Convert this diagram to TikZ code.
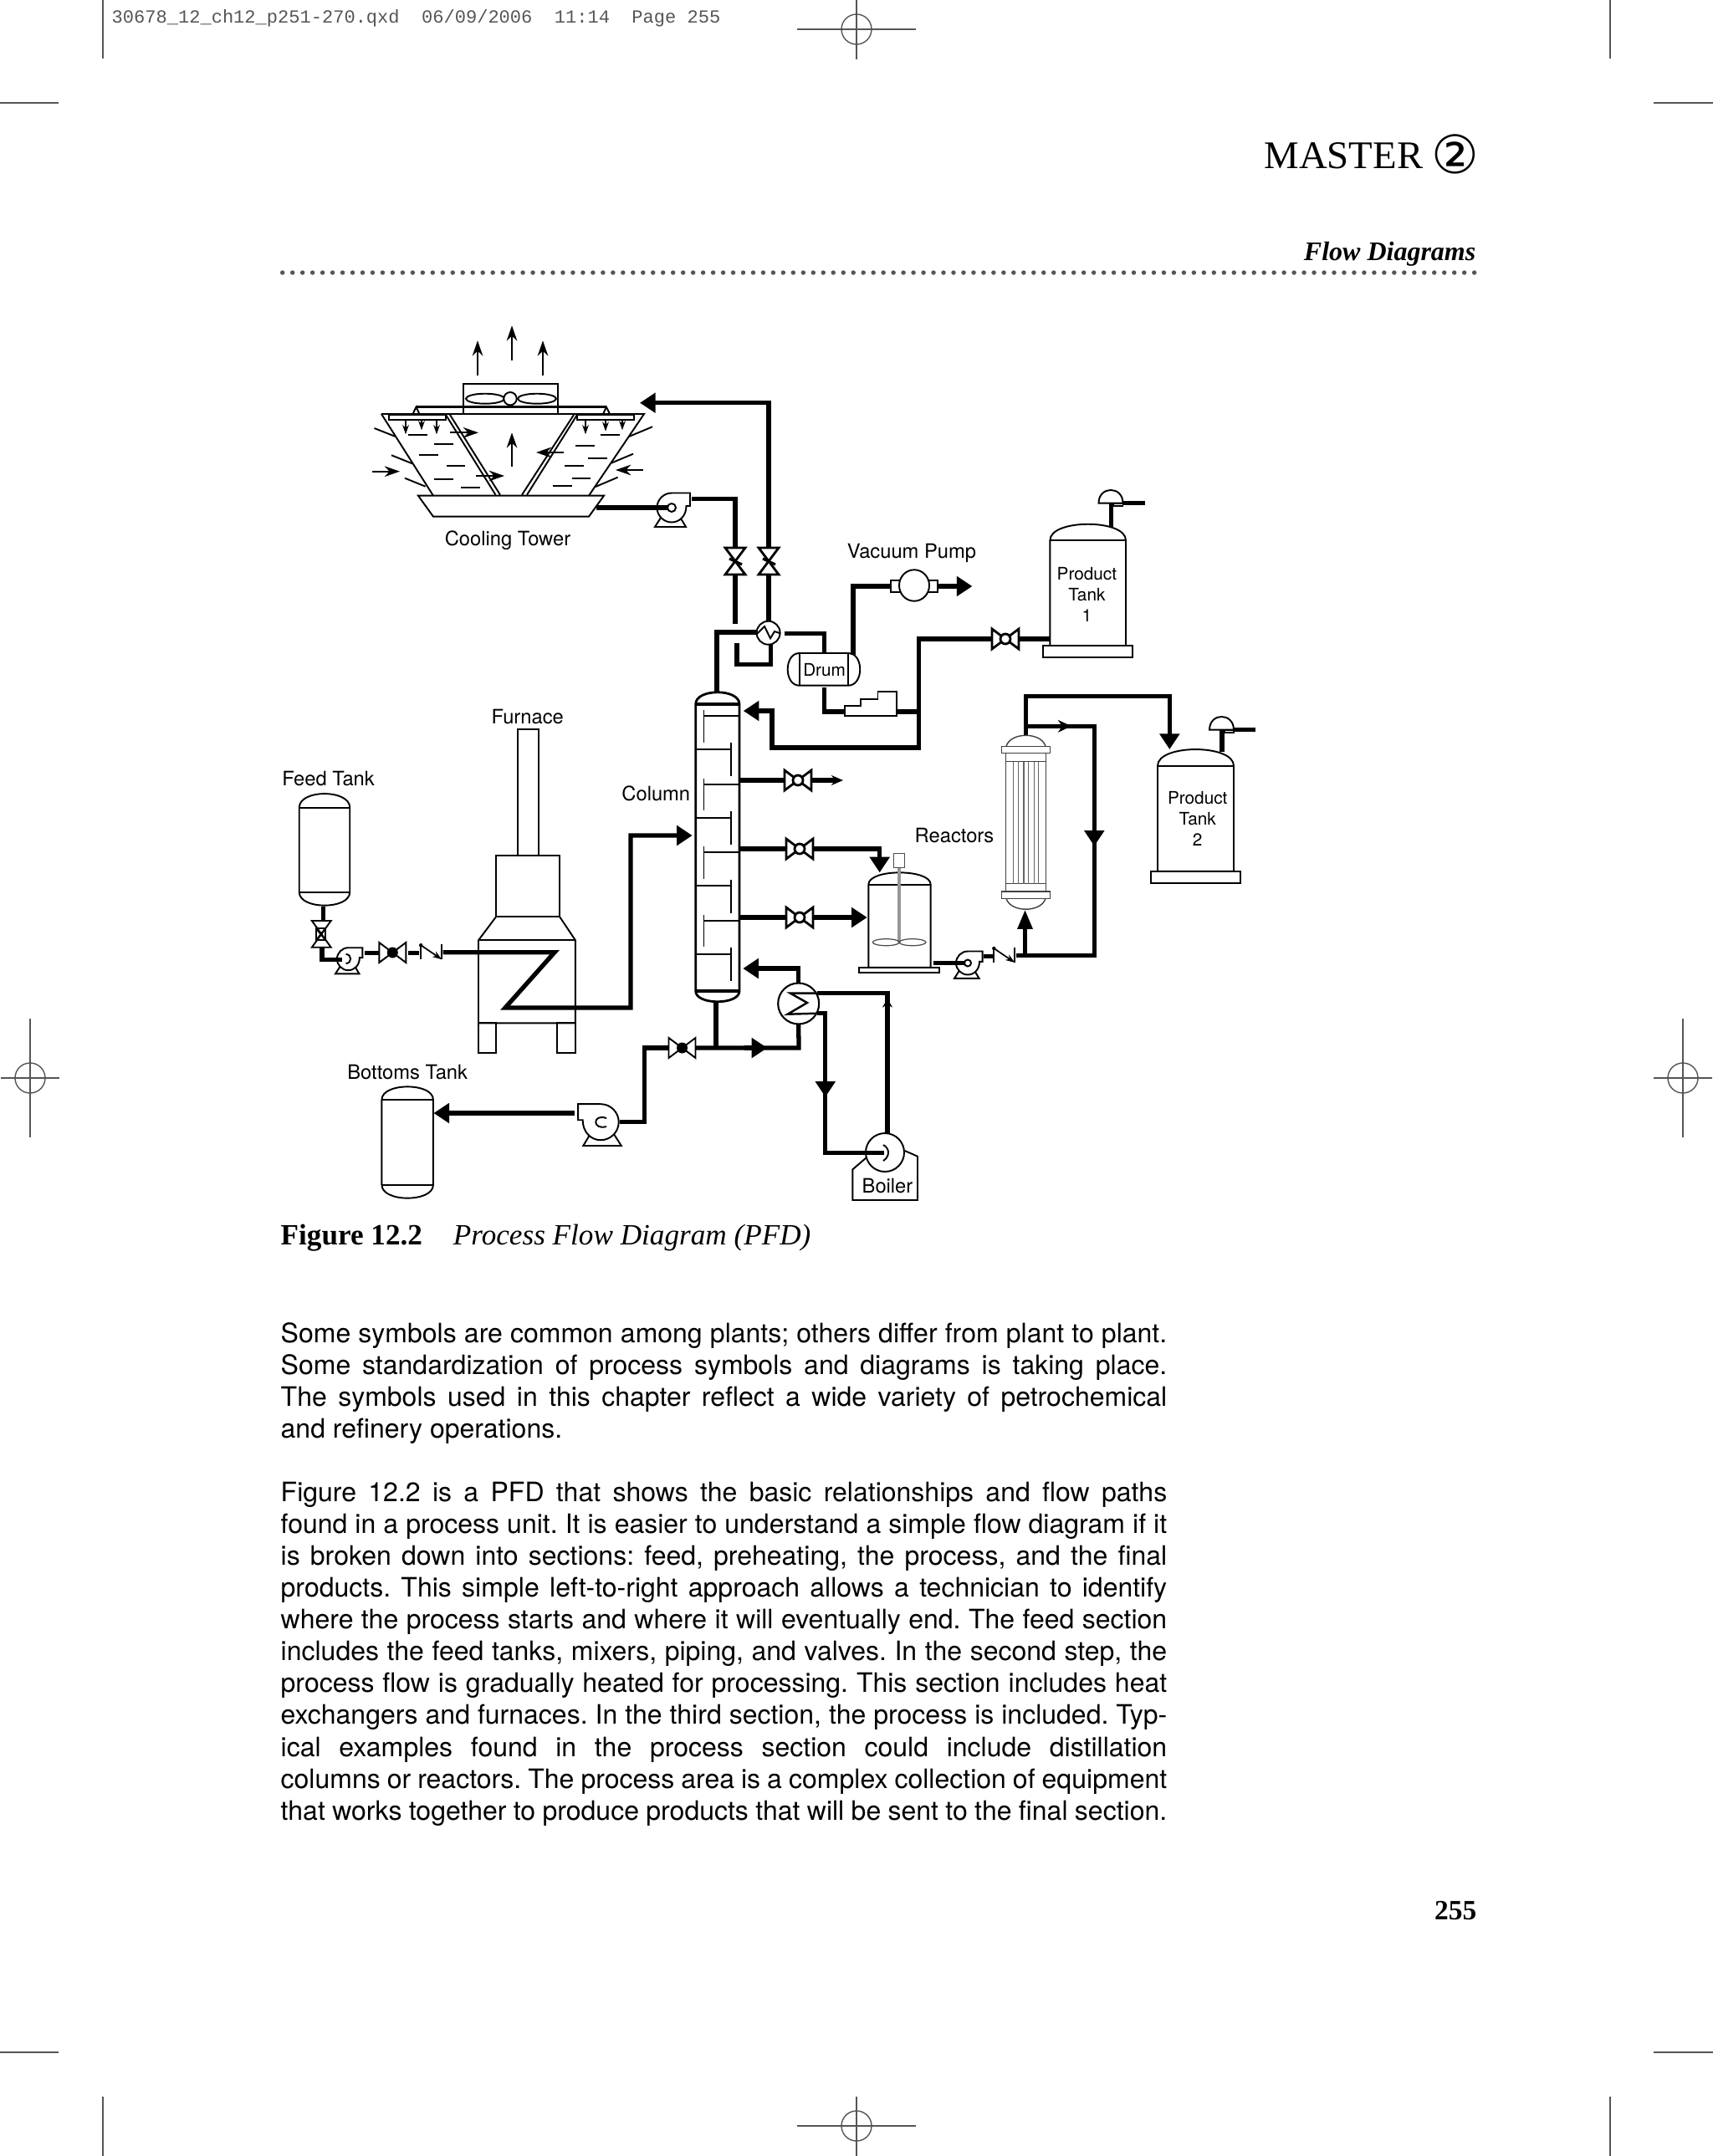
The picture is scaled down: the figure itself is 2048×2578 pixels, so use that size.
\documentclass[tikz,border=0pt]{standalone}
\usepackage{fontspec}
\setmainfont{Liberation Serif}
\setsansfont{TeX Gyre Heros}
\setmonofont{Liberation Mono}
\newfontfamily\symfont{DejaVu Sans}
\usetikzlibrary{arrows.meta}
\usetikzlibrary{calc}
\definecolor{cropgray}{RGB}{85,85,85}
\definecolor{shaftgray}{RGB}{150,150,150}

\tikzset{
  thinline/.style={line width=0.55pt},
  shell/.style={line width=0.8pt},
  pipe/.style={line width=1.5pt},
  flow/.style={pipe,-{Triangle[length=5.3pt,width=6.6pt]}},
  smallflow/.style={line width=0.5pt,-{Stealth[length=3.2pt,width=2.2pt]}},
  crop/.style={line width=0.4pt,color=cropgray},
  lbl/.style={font=\sffamily\fontsize{6.75}{8}\selectfont,inner sep=0pt},
  smalllbl/.style={font=\sffamily\fontsize{5.9}{7}\selectfont,inner sep=0pt,align=center},
  body/.style={font=\sffamily\fontsize{9.1}{10.84}\selectfont\frenchspacing,inner sep=0pt,anchor=north west,text width=301.3pt,align=justify},
  pump/.pic={
    \draw[thinline] (0,-17.5) .. controls (-9.6,-17.5) and (-17.5,-9.6) .. (-17.5,0)
      .. controls (-17.5,9.6) and (-9.6,17.5) .. (0,17.5)
      .. controls (9.6,17.5) and (17.5,9.6) .. (17.5,-2) -- (22,-2) -- (22,-17.5) -- cycle;
    \draw[thinline] (-13,12) -- (-20,23) -- (17,23) -- (11,13);
  },
  openvalve/.pic={
    \draw[shell,fill=white] (-16,-12) -- (16,12) -- (16,-12) -- (-16,12) -- cycle;
    \draw[shell,fill=white] (0,0) circle[radius=6];
  },
  dotvalve/.pic={
    \draw[thinline,fill=white] (-16,-12) -- (16,12) -- (16,-12) -- (-16,12) -- cycle;
    \fill (0,0) circle[radius=6.5];
  },
  gatevalve/.pic={
    \draw[shell,fill=white] (-12,-16) -- (12,16) -- (-12,16) -- (12,-16) -- cycle;
    \draw[line width=0.9pt] (-7,-3) -- (8,4);
  },
  checkvalve/.pic={
    \draw[thinline] (0,-10) -- (0,8.5);
    \fill (0,-8.5) circle[radius=2.2];
    \draw[smallflow] (0,-8.5) -- (25,8.5);
    \draw[thinline] (25,-10) -- (25,8.5);
  },
  vent/.pic={
    \draw[thinline] (-15,0) .. controls (-15,-21) and (14,-21) .. (14,0) -- cycle;
    \draw[thinline] (3,0) rectangle (14,3);
    \draw[pipe] (14,0) -- (40,0);
  },
  pics/vessel/.style n args={4}{code={
    \draw[thinline] (-#1/2,0) -- (-#1/2,#2) .. controls (-#1/2,#2+#4*1.33) and (#1/2,#2+#4*1.33) .. (#1/2,#2)
      -- (#1/2,0) .. controls (#1/2,-#3*1.33) and (-#1/2,-#3*1.33) .. cycle;
    \draw[thinline] (-#1/2,0) -- (#1/2,0) (-#1/2,#2) -- (#1/2,#2);
  }},
}

\begin{document}
\begin{tikzpicture}[x=0.01cm,y=-0.01cm]
\useasboundingbox (0,0) rectangle (2048,2578);

 % printer marks
 \draw[crop] (123,0) -- (123,70);
 \draw[crop] (0,123) -- (70,123);
 \draw[crop] (1925,0) -- (1925,70);
 \draw[crop] (1977,123) -- (2048,123);
 \draw[crop] (123,2507) -- (123,2578);
 \draw[crop] (0,2454) -- (70,2454);
 \draw[crop] (1925,2507) -- (1925,2578);
 \draw[crop] (1977,2454) -- (2048,2454);
 \foreach \cx/\cy in {36/1289,2012/1289}{
  \draw[crop] (\cx,\cy) circle[radius=18];
  \draw[crop] (\cx-35,\cy) -- (\cx+35,\cy) (\cx,\cy-71) -- (\cx,\cy+71);
 }
 \foreach \cx/\cy in {1024/35,1024/2542}{
  \draw[crop] (\cx,\cy) circle[radius=18];
  \draw[crop] (\cx-71,\cy) -- (\cx+71,\cy) (\cx,\cy-35) -- (\cx,\cy+36);
 }
 \node[anchor=base west,inner sep=0pt,color=cropgray,font=\ttfamily\fontsize{6.27}{8}\selectfont] (slug) at (133,27)
  {30678\_12\_ch12\_p251-270.qxd~~06/09/2006~~11:14~~Page~255};

 % running head
 \node[anchor=base east,inner sep=0pt,font=\rmfamily\fontsize{13.3}{15}\selectfont] (master) at (1702,201) {MASTER};
 \node[inner sep=0pt,font=\symfont\fontsize{18}{19}\selectfont] (mastertwo) at (1740,184) {②};
 \node[anchor=base east,inner sep=0pt,font=\rmfamily\bfseries\itshape\fontsize{9.1}{11}\selectfont] (head) at (1765,311) {Flow Diagrams};
 \draw[line width=1.55pt,line cap=round,dash pattern=on 0pt off 3.405pt,color=cropgray] (337.7,326) -- (1764,326);

 % cooling tower
 \coordinate (CT) at (611,495);
 \draw[thinline] (456,495) -- (770,495) -- (704,592.7) (518,592.7) -- (456,495);
 \draw[thinline] (500,592.7) -- (722,592.7) -- (704,617.7) -- (518,617.7) -- cycle;
 \draw[thinline] (465,496) rectangle (533,501.7);
 \draw[thinline] (690,496) rectangle (758,501.7);
 \draw[thinline] (533,496) -- (592.5,591.7) (538,496) -- (598,591.7);
 \draw[thinline] (686,496) -- (624,591.7) (690,496) -- (630,591.7);
 \draw[thinline] (554,459) rectangle (667,495);
 \draw[thinline] (580,476.7) ellipse[x radius=23,y radius=6];
 \draw[thinline] (642,476.7) ellipse[x radius=23,y radius=6];
 \draw[thinline,fill=white] (610,476.7) circle[radius=7.7];
 \draw[line width=1pt] (497.5,486.7) -- (725,486.7);
 \foreach \tx in {497.5,725}
  \draw[thinline] (\tx-4,495) -- (\tx,486.7) -- (\tx+4,495);
 \foreach \ax/\ay/\bx/\by in {571/449/571/407.3,612/431/612/389.3,649/449/649/407.3,
   538/517.3/572/517.3,612/558.3/612/517.3,674/541/641/541,569/569/603/569,445/563.7/478/563.7,769/562/736/562}
  \draw[thinline,-{Stealth[length=5.2pt,width=3.6pt]}] (\ax,\ay) -- (\bx,\by);
 \foreach \ax/\by in {485/519.3,504/514.3,522/519.3,700/519.3,724/515.7,744/514.3}
  \draw[smallflow] (\ax,502) -- (\ax,\by);
 \foreach \ax/\bx/\ay in {488/511/519.7,519/542/531,501/524/544,534/556/557,519/542/573.3,551/574/583.3,
   717.5/741/519.7,688/711/532.7,703/726/547.7,675/698/557,684/706/571.7,661/684/581.3}
  \draw[thinline] (\ax,\ay) -- (\bx,\ay);
 \foreach \ax/\ay/\bx/\by in {447.5/512/472/521.7,468/544.3/493/554.3,484/571.7/508.6/581.7,
   780/510.3/752/522,757/542.7/730/554,738.6/570.7/712/582}
  \draw[thinline] (\ax,\ay) -- (\bx,\by);
 \node[lbl] (towerlabel) at (607,646.5) {Cooling Tower};

 % valves and lines above the column
 \coordinate (PC) at (803,607);
 \coordinate (V1) at (879,671);
 \coordinate (V2) at (919,671);
 \coordinate (BasinOut) at (713,607);
 \coordinate (PCin) at (801,607);
 \coordinate (PCout) at (827,596.7);
 \coordinate (V1top) at ($(V1)+(0,-16)$);
 \coordinate (V2top) at ($(V2)+(0,-16)$);
 \coordinate (ReturnTip) at (765,481.7);
 \coordinate (HC) at (918.6,756.7);
 \draw[pipe] (BasinOut) -- (PCin);
 \pic at (PC) {pump};
 \draw[thinline,fill=white] (PC) circle[radius=5];
 \draw[pipe] (PCout) -| (V1top);
 \draw[flow] (V2top) |- (ReturnTip);
 \pic at (V1) {gatevalve};
 \pic at (V2) {gatevalve};
 \coordinate (ColTop) at (857,828);
 \coordinate (HCin) at (904,756);
 \coordinate (DrumIn) at (985.6,781);
 \coordinate (HCright) at (938,757.7);
 \coordinate (HCa) at (881,769);
 \coordinate (HCb) at (921.7,794.3);
 \coordinate (HCc) at (921.7,770.7);
 \draw[pipe] (879,687) -- (879,745.7);
 \draw[pipe] (919,687) -- (919,743);
 \draw[pipe] (ColTop) |- (HCin);
 \draw[pipe] (HCright) -| (DrumIn);
 \draw[pipe] (HCa) |- (HCb) -- (HCc);
 \draw[thinline] (HC) circle[radius=14];
 \draw[thinline] (905,758) -- (914,749) -- (921,763.3) -- (926,755) -- (932,757);

 % drum, vacuum pump, overhead line
 \draw[thinline] (955.8,781) -- (1014,781) .. controls (1033,781) and (1033,819.7) .. (1014,819.7)
   -- (955.8,819.7) .. controls (937,819.7) and (937,781) .. (955.8,781);
 \draw[thinline] (955.8,781) -- (955.8,819.7) (1014,781) -- (1014,819.7);
 \node[smalllbl] (drumlabel) at (985.6,801) {Drum};
 \coordinate (VP) at (1093,700);
 \coordinate (VPin) at (1065,701);
 \coordinate (VPout) at (1121,701);
 \coordinate (VPtip) at (1162.4,701);
 \coordinate (DrumTop) at (1020,782.7);
 \draw[pipe] (DrumTop) |- (VPin);
 \draw[flow] (VPout) -- (VPtip);
 \draw[thinline] (1065,694.3) rectangle (1121,708.3);
 \draw[thinline,fill=white] (VP) ellipse[x radius=18,y radius=18.7];
 \node[lbl] (vaclabel) at (1090,661.5) {Vacuum Pump};
 \coordinate (DrumOut) at (985.6,822);
 \coordinate (StepIn) at (1009.7,851);
 \coordinate (StepOut) at (1072,851);
 \coordinate (J1) at (1098.5,851);
 \coordinate (J2) at (1098.5,894);
 \coordinate (J3) at (923,850);
 \coordinate (RefluxTip) at (888.8,850);
 \coordinate (V3) at (1202,764);
 \draw[pipe] (DrumOut) |- (StepIn);
 \draw[pipe] (StepOut) -- (J1);
 \draw[thinline] (1009.7,856) -- (1009.7,844.3) -- (1029,844.3) -- (1029,835.7) -- (1049.5,835.7)
   -- (1049.5,826.7) -- (1072,826.7) -- (1072,856) -- cycle;
 \draw[flow] ($(V3)+(-16,0)$) -| (J2) -| (J3) -- (RefluxTip);
 \draw[pipe] ($(V3)+(16,0)$) -- (1255.4,764);
 \pic at (V3) {openvalve};

 % product tank 1
 \pic at (1300.7,646) {vessel={90.6}{126}{19.3}{0}};
 \draw[thinline] (1247,772) rectangle (1354,786);
 \node[smalllbl] (tankone) at (1299.4,711) {Product\\Tank\\1};
 \coordinate (VT1) at (1328.5,601.7);
 \draw[pipe] (1328.5,630) -- (VT1);
 \pic at (VT1) {vent};

 % column
 \draw[shell] (831.7,842) -- (831.7,1185) .. controls (831.7,1202) and (884,1202) .. (884,1185)
   -- (884,842) .. controls (884,823) and (831.7,823) .. cycle;
 \draw[line width=0.9pt] (831.7,842) -- (884,842) (831.7,1185) -- (884,1185);
 \foreach \ya/\yb/\yc in {849/888/856,931/969/937.7,1012/1050.7/1019,1094/1132/1100.7}
  \draw[thinline] (841.5,\ya) -- (841.5,\yb) (841.5,\yc) -- (883,\yc);
 \foreach \ya/\yb/\yc in {888/928/896,970/1010/978,1051.7/1091.7/1059,1133/1172.7/1141}
  \draw[thinline] (874.3,\ya) -- (874.3,\yb) (833,\yc) -- (874.3,\yc);
 \node[lbl] (collabel) at (784.3,949) {Column};

 % draw-off lines
 \coordinate (V4) at (954,933);
 \coordinate (V5) at (956,1015);
 \coordinate (V6) at (956,1097);
 \coordinate (ReacIn1) at (1051.7,1043.3);
 \coordinate (ReacIn2) at (1036.7,1097);
 \draw[pipe] (884,933) -- (V4);
 \draw[pipe,-{Stealth[length=4pt,width=3.4pt]}] ($(V4)+(16,0)$) -- (1008,933);
 \draw[pipe] (884,1015) -- (V5);
 \draw[flow] ($(V5)+(16,0)$) -| (ReacIn1);
 \draw[pipe] (884,1097) -- (V6);
 \draw[flow] ($(V6)+(16,0)$) -- (ReacIn2);
 \pic at (V4) {openvalve};
 \pic at (V5) {openvalve};
 \pic at (V6) {openvalve};

 % reactor with agitator
 \pic at (1075.5,1057.7) {vessel={74.4}{99}{14.4}{0}};
 \draw[thinline] (1026.7,1156.7) rectangle (1123.3,1162.7);
 \draw[line width=1pt,color=shaftgray] (1075,1037.3) -- (1075,1126.7);
 \draw[line width=0.35pt,color=black!70] (1068.3,1020.7) rectangle (1081.7,1037.3);
 \draw[line width=0.35pt,color=black!70] (1059.3,1126.7) ellipse[x radius=16,y radius=4];
 \draw[line width=0.35pt,color=black!70] (1091,1126.7) ellipse[x radius=16,y radius=4];
 \node[lbl] (reaclabel) at (1141,999) {Reactors};

 % reactor loop
 \coordinate (PR) at (1157,1151.5);
 \coordinate (J4) at (1308.3,868.3);
 \coordinate (TubeTop) at (1226.7,880);
 \coordinate (TubeIn) at (1225.5,1087.7);
 \coordinate (J5) at (1398.3,832.3);
 \coordinate (Tank2In) at (1398.3,896);
 \draw[pipe] (1115.7,1151.5) -- (PR);
 \pic[scale=0.8] at (PR) {pump};
 \draw[thinline,fill=white] (PR) circle[radius=4];
 \draw[pipe] (1175.7,1143.3) -- (1188.3,1143.3);
 \pic at (1188.3,1142.5) {checkvalve};
 \draw[pipe] (1215,1142.3) -| (J4) -- (1226.7,868.3);
 \draw[pipe,-{Triangle[length=6.6pt,width=4.9pt]}] (1225.5,1142.3) -- (TubeIn);
 \draw[flow] (1308.3,980) -- (1308.3,1011.7);
 \draw[pipe,-{Stealth[length=4.6pt,width=4.2pt]}] (1240,868.3) -- (1281,868.3);
 \draw[flow] (TubeTop) |- (J5) -- (Tank2In);

 % tube reactor
 \draw[line width=0.4pt,color=black!75] (1202.3,900.7) -- (1202.3,1066) (1250.7,900.7) -- (1250.7,1066);
 \draw[line width=0.4pt,color=black!75] (1197.3,892.3) rectangle (1255.7,900.7);
 \draw[line width=0.4pt,color=black!75] (1197.3,1066) rectangle (1255.7,1074.3);
 \draw[line width=0.4pt,color=black!75] (1203,892.3) .. controls (1208,875) and (1245,875) .. (1250,892.3);
 \draw[line width=0.4pt,color=black!75] (1203,1074.3) .. controls (1208,1091.5) and (1245,1091.5) .. (1250,1074.3);
 \draw[line width=0.4pt,color=black!75] (1202.3,910.7) -- (1250.7,910.7) (1202.3,1056.7) -- (1250.7,1056.7);
 \foreach \tx in {1211.7,1217.3,1224,1229.3,1236.7,1241.7}
  \draw[line width=0.35pt,color=black!60] (\tx,910.7) -- (\tx,1056.7);

 % product tank 2
 \pic at (1429.5,915.7) {vessel={91}{126}{19.7}{0}};
 \draw[thinline] (1375.7,1041.7) rectangle (1482.7,1055.7);
 \node[smalllbl] (tanktwo) at (1431.7,979) {Product\\Tank\\2};
 \coordinate (VT2) at (1461,872.7);
 \draw[pipe] (1461,899) -- (VT2);
 \pic at (VT2) {vent};

 % feed tank, pump
 \pic at (388,965.7) {vessel={60.5}{101}{16.7}{16}};
 \node[lbl] (feedlabel) at (392.5,930.7) {Feed Tank};
 \coordinate (V9) at (384.3,1116.7);
 \coordinate (PF) at (416.4,1146.7);
 \coordinate (PFin) at (409,1147.3);
 \draw[pipe] (386.4,1084) -- (386.4,1101);
 \draw[pipe] (385,1132.7) |- (PFin);
 \draw[thinline,fill=white] (372.9,1101) -- (395.7,1132.7) -- (372.9,1132.7) -- (395.7,1101) -- cycle;
 \draw[thinline] (377.7,1110) rectangle (389.3,1124.3);
 \draw[thinline] (377.7,1110) -- (389.3,1124.3) (377.7,1124.3) -- (389.3,1110);
 \pic[scale=0.77] at (PF) {pump};
 \draw[thinline] (413.5,1141) .. controls (421,1141) and (421,1152) .. (413.5,1152);

 % feed line through furnace
 \coordinate (V7) at (469.3,1139);
 \coordinate (FurnIn) at (529.6,1138.7);
 \coordinate (Za) at (663,1138.7);
 \coordinate (Zb) at (604,1205);
 \coordinate (Zc) at (753.9,1205);
 \coordinate (FeedTip) at (827.7,999);
 \draw[pipe] (436,1139.3) -- (453.2,1139.3);
 \pic at (V7) {dotvalve};
 \draw[pipe] (487.9,1139.3) -- (501,1139.3);
 \pic at (503.2,1138.7) {checkvalve};
 \draw[thinline] (618.6,1023) -- (618.6,872.3) -- (643.6,872.3) -- (643.6,1023);
 \draw[thinline] (593.2,1023) rectangle (669,1096);
 \draw[thinline] (593.2,1096) -- (572,1124.3) -- (572,1223.3) -- (687.9,1223.3) -- (687.9,1124.3) -- (669,1096);
 \draw[thinline] (572,1124.3) -- (687.9,1124.3);
 \draw[thinline] (572,1223.3) rectangle (593.2,1259);
 \draw[thinline] (666.4,1223.3) rectangle (687.9,1259);
 \draw[flow] (FurnIn) -- (Za) -- (Zb) -- (Zc) |- (FeedTip);
 \node[lbl] (furnlabel) at (630.7,857) {Furnace};

 % bottoms line and reboiler
 \coordinate (V8) at (815.5,1253);
 \coordinate (HX) at (954.7,1200);
 \coordinate (ColBot) at (856,1198);
 \coordinate (J6) at (856,1253);
 \coordinate (J7) at (955,1253);
 \coordinate (J8) at (770.5,1341.7);
 \coordinate (PB) at (718.2,1341.7);
 \coordinate (PBin) at (740.7,1341.7);
 \coordinate (BotTip) at (518.5,1331);
 \draw[pipe] (ColBot) -- (J6);
 \draw[pipe] ($(V8)+(16,0)$) -- (J7) -- ($(HX)+(0,24)$);
 \draw[flow] (890,1253) -- (917.3,1253);
 \draw[pipe] ($(V8)+(-16,0)$) -| (J8) -- (PBin);
 \pic at (V8) {dotvalve};
 \pic[xscale=-1.23,yscale=1.23] at (PB) {pump};
 \draw[thinline] (725,1337) .. controls (708,1331) and (708,1352) .. (725,1347);
 \draw[flow] (687,1331) -- (BotTip);
 \pic at (487.2,1315) {vessel={61.5}{101.7}{15.7}{16}};
 \node[lbl] (botlabel) at (487.2,1282) {Bottoms Tank};
 \draw[flow] ($(HX)+(0,-25)$) |- (888.3,1158);
 \coordinate (BoilIn) at (1056.6,1378.3);
 \coordinate (BoilOut) at (1061,1355);
 \coordinate (HXa) at (976.7,1187.7);
 \coordinate (HXb) at (976.7,1211.7);
 \draw[pipe] (HXa) -| (BoilOut);
 \draw[pipe] (HXb) -| (986.8,1300) -- (986.8,1378.3) -- (BoilIn);
 \draw[flow] (986.8,1280) -- (986.8,1311.7);
 \draw[thinline,-{Stealth[length=3pt,width=3.4pt]}] (1061,1205) -- (1061,1194);
 \draw[line width=0.6pt] (HX) circle[radius=24.5];
 \draw[line width=0.7pt] (HXa) -- (945,1187.7) -- (965,1199) -- (941.7,1212.7) -- (HXb);
 \draw[thinline] (1036,1384) -- (1019.4,1398.3) -- (1019.4,1435) -- (1097,1435) -- (1097,1382.7) -- (1081.8,1376);
 \draw[thinline] (1058,1378) circle[radius=23];
 \draw[thinline] (1056,1369) .. controls (1064,1373) and (1064,1383) .. (1056,1388);
 \node[lbl] (boillabel) at (1061,1418) {Boiler};

 % caption and text
 \node[anchor=base west,inner sep=0pt,font=\rmfamily\fontsize{10}{12}\selectfont] (caption) at (335,1488.5)
  {\textbf{Figure 12.2}\hspace{10.5pt}\textit{Process Flow Diagram (PFD)}};
 \node[body] (parone) at (335,1581) {Some symbols are common among plants; others differ from plant to plant.\linebreak
 Some standardization of process symbols and diagrams is taking place.\linebreak
 The symbols used in this chapter reflect a wide variety of petrochemical\linebreak
 and refinery operations.};
 \node[body] (partwo) at (335,1771) {Figure 12.2 is a PFD that shows the basic relationships and flow paths\linebreak
 found in a process unit. It is easier to understand a simple flow diagram if it\linebreak
 is broken down into sections: feed, preheating, the process, and the final\linebreak
 products. This simple left-to-right approach allows a technician to identify\linebreak
 where the process starts and where it will eventually end. The feed section\linebreak
 includes the feed tanks, mixers, piping, and valves. In the second step, the\linebreak
 process flow is gradually heated for processing. This section includes heat\linebreak
 exchangers and furnaces. In the third section, the process is included. Typ-\linebreak
 ical examples found in the process section could include distillation\linebreak
 columns or reactors. The process area is a complex collection of equipment\linebreak
 that works together to produce products that will be sent to the final section.};
 \node[anchor=base east,inner sep=0pt,font=\rmfamily\bfseries\fontsize{9.5}{12}\selectfont] (folio) at (1766,2295) {255};

\end{tikzpicture}
\end{document}
